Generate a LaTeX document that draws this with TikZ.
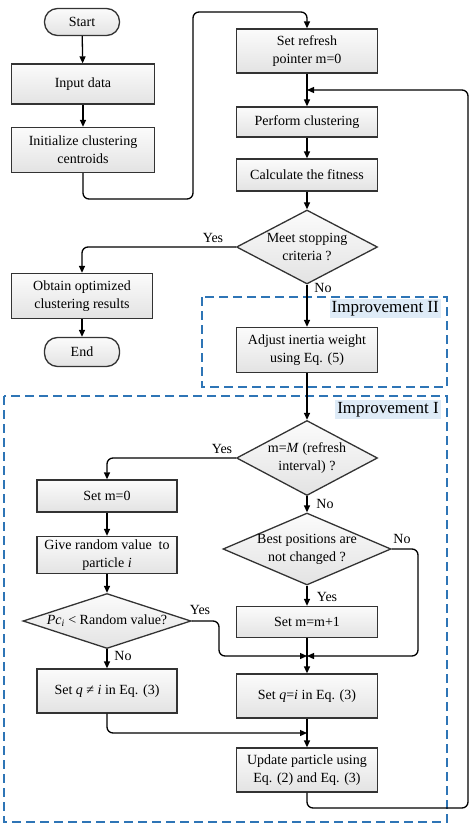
\documentclass[tikz,border=0pt]{standalone}
\usepackage{fontspec}
\setmainfont{Liberation Serif}
\usetikzlibrary{shapes.geometric,arrows.meta,positioning,calc}
\usepackage{xcolor}
\definecolor{impblue}{RGB}{46,117,182}
\definecolor{labblue}{RGB}{222,235,247}

\begin{document}
\begin{tikzpicture}[x=1pt,y=-1pt,
    font=\fontsize{14}{18}\selectfont,
    box/.style={draw=black!80,line width=1.3pt,top color=gray!3,bottom color=gray!22,
        minimum width=141pt,align=center,inner sep=2pt},
    term/.style={box,rounded corners=13pt,minimum width=75pt},
    choice/.style={diamond,draw=black!80,line width=1.3pt,top color=gray!3,bottom color=gray!22,
        inner sep=0pt,minimum width=141pt,minimum height=74pt},
    arr/.style={line width=1.3pt,rounded corners=6pt,-{Triangle[length=7pt,width=6pt]}},
    imp/.style={draw=impblue,line width=1.5pt,dash pattern=on 9pt off 5pt},
    implab/.style={fill=labblue,font=\fontsize{17}{19}\selectfont,inner sep=2pt,anchor=north east}]

    \useasboundingbox (0,0) rectangle (474,832);

    %improvement frames
    \draw [imp] (202,297) rectangle (447,387);
    \node [implab] (imptwo) at (441,299) {Improvement II};
    \draw [imp] (4,396) rectangle (447,822);
    \node [implab] (impone) at (441,400) {Improvement I};

    %nodes

    \node [term,minimum height=27pt] (start) at (82,22) {Start};

    \node [box,minimum width=143pt,minimum height=40pt] (input) at (83,84) {Input data};
    \draw [arr] (start) -- (input);

    \node [box,minimum width=143pt,minimum height=45pt] (init) at (83,150) {Initialize clustering\\centroids};
    \draw [arr] (input) -- (init);

    \node [box,minimum height=44pt] (refresh) at (307,51) {Set refresh\\pointer m=0};
    \draw [arr] (init.south) |- (193,199) -- (193,12) -| (refresh.north);

    \coordinate (loopin) at (307,90);
    \node [box,minimum height=30pt] (perform) at (307,122) {Perform clustering};
    \draw [arr] (refresh) -- (perform);

    \node [box,minimum height=32pt] (fitness) at (307,175) {Calculate the fitness};
    \draw [arr] (perform) -- (fitness);

    \node [choice,label={[align=center]center:{Meet stopping\\criteria ?}}] (stop) at (307,247) {};
    \draw [arr] (fitness) -- (stop);

    \node [box,minimum height=45pt] (obtain) at (82,296) {Obtain optimized\\clustering results};
    \draw [arr] (stop.west) -| (obtain.north);
    \node (yesstop) at (213,238) {Yes};

    \node [term,minimum height=29pt] (end) at (82,352) {End};
    \draw [arr] (obtain) -- (end);

    \node [box,minimum height=45pt] (adjust) at (307,350) {Adjust inertia weight\\using Eq. (5)};
    \draw [arr] (stop.south) -- (adjust.north);
    \node (nostop) at (323,288) {No};

    \node [choice,minimum height=75pt,label={[align=center]center:{m=\textit{M} (refresh\\interval) ?}}] (refm) at (307,458) {};
    \draw [arr] (adjust) -- (refm);

    \node [box,minimum width=140pt,minimum height=32pt] (setm) at (107,496) {Set m=0};
    \draw [arr] (refm.west) -| (setm.north);
    \node (yesrefm) at (222,449) {Yes};

    \node [box,minimum width=140pt,minimum height=37pt] (give) at (107,555) {Give random value\ \ to\\particle \textit{i}};
    \draw [arr] (setm) -- (give);

    \node [choice,minimum width=168pt,minimum height=72pt,label={[align=center]center:{Best positions are\\not changed ?}}] (best) at (307,549) {};
    \draw [arr] (refm.south) -- (best.north);
    \node (norefm) at (325,504) {No};

    \node [box,minimum height=31pt] (mplus) at (307,622) {Set m=m+1};
    \draw [arr] (best.south) -- (mplus.north);
    \node (yesbest) at (327,597) {Yes};

    \node [choice,minimum width=168pt,minimum height=55pt,label={center:{\textit{Pc}\textsubscript{\textit{i}} < Random value?}}] (pc) at (107,621) {};
    \draw [arr] (give) -- (pc);

    \coordinate (merge) at (307,656);
    \draw [arr] (best.east) -- (418,549) |- (merge);
    \node (nobest) at (402,539) {No};
    \draw [arr] (pc.east) -- (219,621) |- (merge);
    \node (yespc) at (200,610) {Yes};

    \node [box,minimum width=140pt,minimum height=44pt] (qne) at (107,691) {Set \textit{q} ≠ \textit{i} in Eq. (3)};
    \draw [arr] (pc.south) -- (qne.north);
    \node (nopc) at (123,656) {No};

    \node [box,minimum height=44pt] (qeq) at (307,696) {Set \textit{q}=\textit{i} in Eq. (3)};
    \draw [arr] (mplus.south) -- (qeq.north);

    \coordinate (join) at (307,733);
    \node [box,minimum height=44pt] (update) at (307,770) {Update particle using\\Eq. (2) and Eq. (3)};
    \draw [arr] (qne.south) |- (join);
    \draw [arr] (qeq) -- (update);

    \draw [arr] (update.south) |- (468,808) |- (loopin);
\end{tikzpicture}
\end{document}
